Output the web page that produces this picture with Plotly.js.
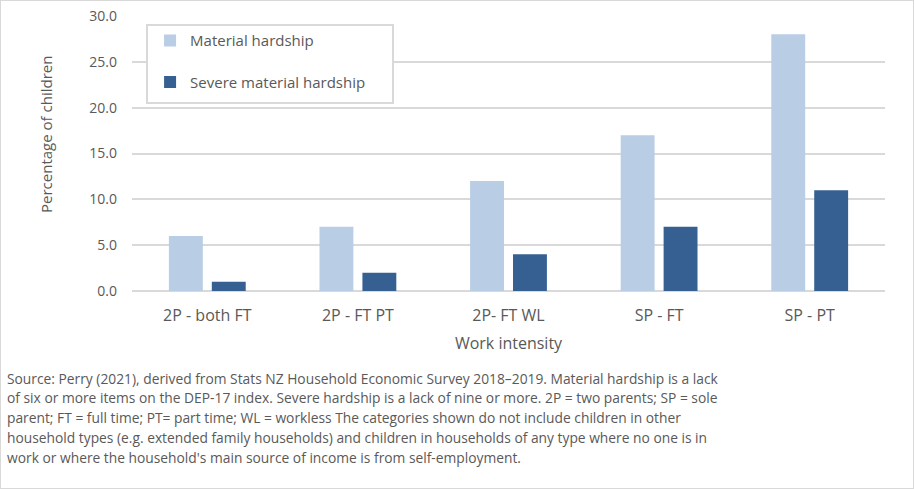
<!DOCTYPE html>
<html>
<head>
<meta charset="utf-8">
<script src="https://cdn.plot.ly/plotly-3.0.1.min.js"></script>
<style>
  body { margin: 0; background: #fff; }
  #chart { width: 912px; height: 487px; border: 1px solid #d9d9d9; }
</style>
</head>
<body>
<div id="chart"></div>
<script>
const categories = ['2P - both FT', '2P - FT PT', '2P- FT WL', 'SP - FT', 'SP - PT'];
const materialHardship = [6, 7, 12, 17, 28];
const severeHardship = [1, 2, 4, 7, 11];
const yTicks = [0, 5, 10, 15, 20, 25, 30];

const sourceLines = [
    'Source: Perry (2021), derived from Stats NZ Household Economic Survey 2018\u20132019. Material hardship is a lack',
    'of six or more items on the DEP-17 index. Severe hardship is a lack of nine or more. 2P = two parents; SP = sole',
    'parent; FT = full time; PT= part time; WL = workless The categories shown do not include children in other',
    'household types (e.g. extended family households) and children in households of any type where no one is in',
    "work or where the household's main source of income is from self-employment."
];

document.addEventListener('DOMContentLoaded', function() {
    drawChart();
});

function drawChart() {
    const grey = '#595959';
    const font = 'Open Sans, Noto Sans, sans-serif';
    // plot area in pixels, used to place the notes in paper coords
    const plotW = 753, plotH = 275, plotL = 131, plotB = 290;
    const px = v => (v - plotL) / plotW;
    const py = v => (plotB - v) / plotH;

    const data = [
        {
            type: 'bar',
            x: categories,
            y: materialHardship,
            name: 'Material hardship',
            legendgroup: 'a',
            marker: { color: '#b9cde5' },
            hoverinfo: 'x+y'
        },
        {
            type: 'bar',
            x: categories,
            y: severeHardship,
            name: 'Severe material hardship',
            legendgroup: 'b',
            marker: { color: '#376092' },
            hoverinfo: 'x+y'
        }
    ];

    const notes = sourceLines.map((line, i) => ({
        xref: 'paper',
        yref: 'paper',
        x: px(4),
        y: py(377 + i * 19.8),
        xanchor: 'left',
        yanchor: 'middle',
        align: 'left',
        showarrow: false,
        text: line,
        font: { size: 13.8, color: grey, family: font }
    }));

    notes.push({
        xref: 'paper',
        yref: 'paper',
        x: px(45),
        y: py(134),
        xanchor: 'center',
        yanchor: 'middle',
        textangle: -90,
        showarrow: false,
        text: 'Percentage of children',
        font: { size: 15, color: grey, family: font }
    });

    const layout = {
        width: 912,
        height: 487,
        margin: { l: 131, r: 28, t: 15, b: 197 },
        paper_bgcolor: '#fff',
        plot_bgcolor: '#fff',
        font: { family: font, color: grey, size: 14 },
        barmode: 'group',
        bargap: 0.43,
        bargroupgap: 0.21,
        showlegend: true,
        legend: {
            x: 0.024,
            y: 0.97,
            xanchor: 'left',
            yanchor: 'top',
            bgcolor: 'rgba(0,0,0,0)',
            borderwidth: 0,
            font: { size: 15, color: grey },
            traceorder: 'grouped',
            tracegroupgap: 19
        },
        // legend frame, drawn as a shape so it can be as wide as the original
        shapes: [
            {
                type: 'rect',
                xref: 'paper',
                yref: 'paper',
                x0: px(146),
                x1: px(392),
                y0: py(102),
                y1: py(24),
                fillcolor: '#fff',
                line: { color: '#d9d9d9', width: 2 },
                layer: 'above'
            }
        ],
        xaxis: {
            type: 'category',
            tickfont: { size: 16, color: grey },
            ticks: '',
            ticklabelstandoff: 13,
            showline: false,
            title: { text: 'Work intensity', font: { size: 16, color: grey }, standoff: 12 }
        },
        yaxis: {
            range: [0, 30],
            tickvals: yTicks,
            tickformat: '.1f',
            tickfont: { size: 14, color: grey },
            ticklabelstandoff: 14,
            gridcolor: '#d9d9d9',
            gridwidth: 1.5,
            zeroline: true,
            zerolinecolor: '#d9d9d9',
            zerolinewidth: 1.5,
            ticks: ''
        },
        annotations: notes,
        hovermode: 'closest'
    };

    Plotly.newPlot('chart', data, layout, { displayModeBar: false });
}
</script>
</body>
</html>
